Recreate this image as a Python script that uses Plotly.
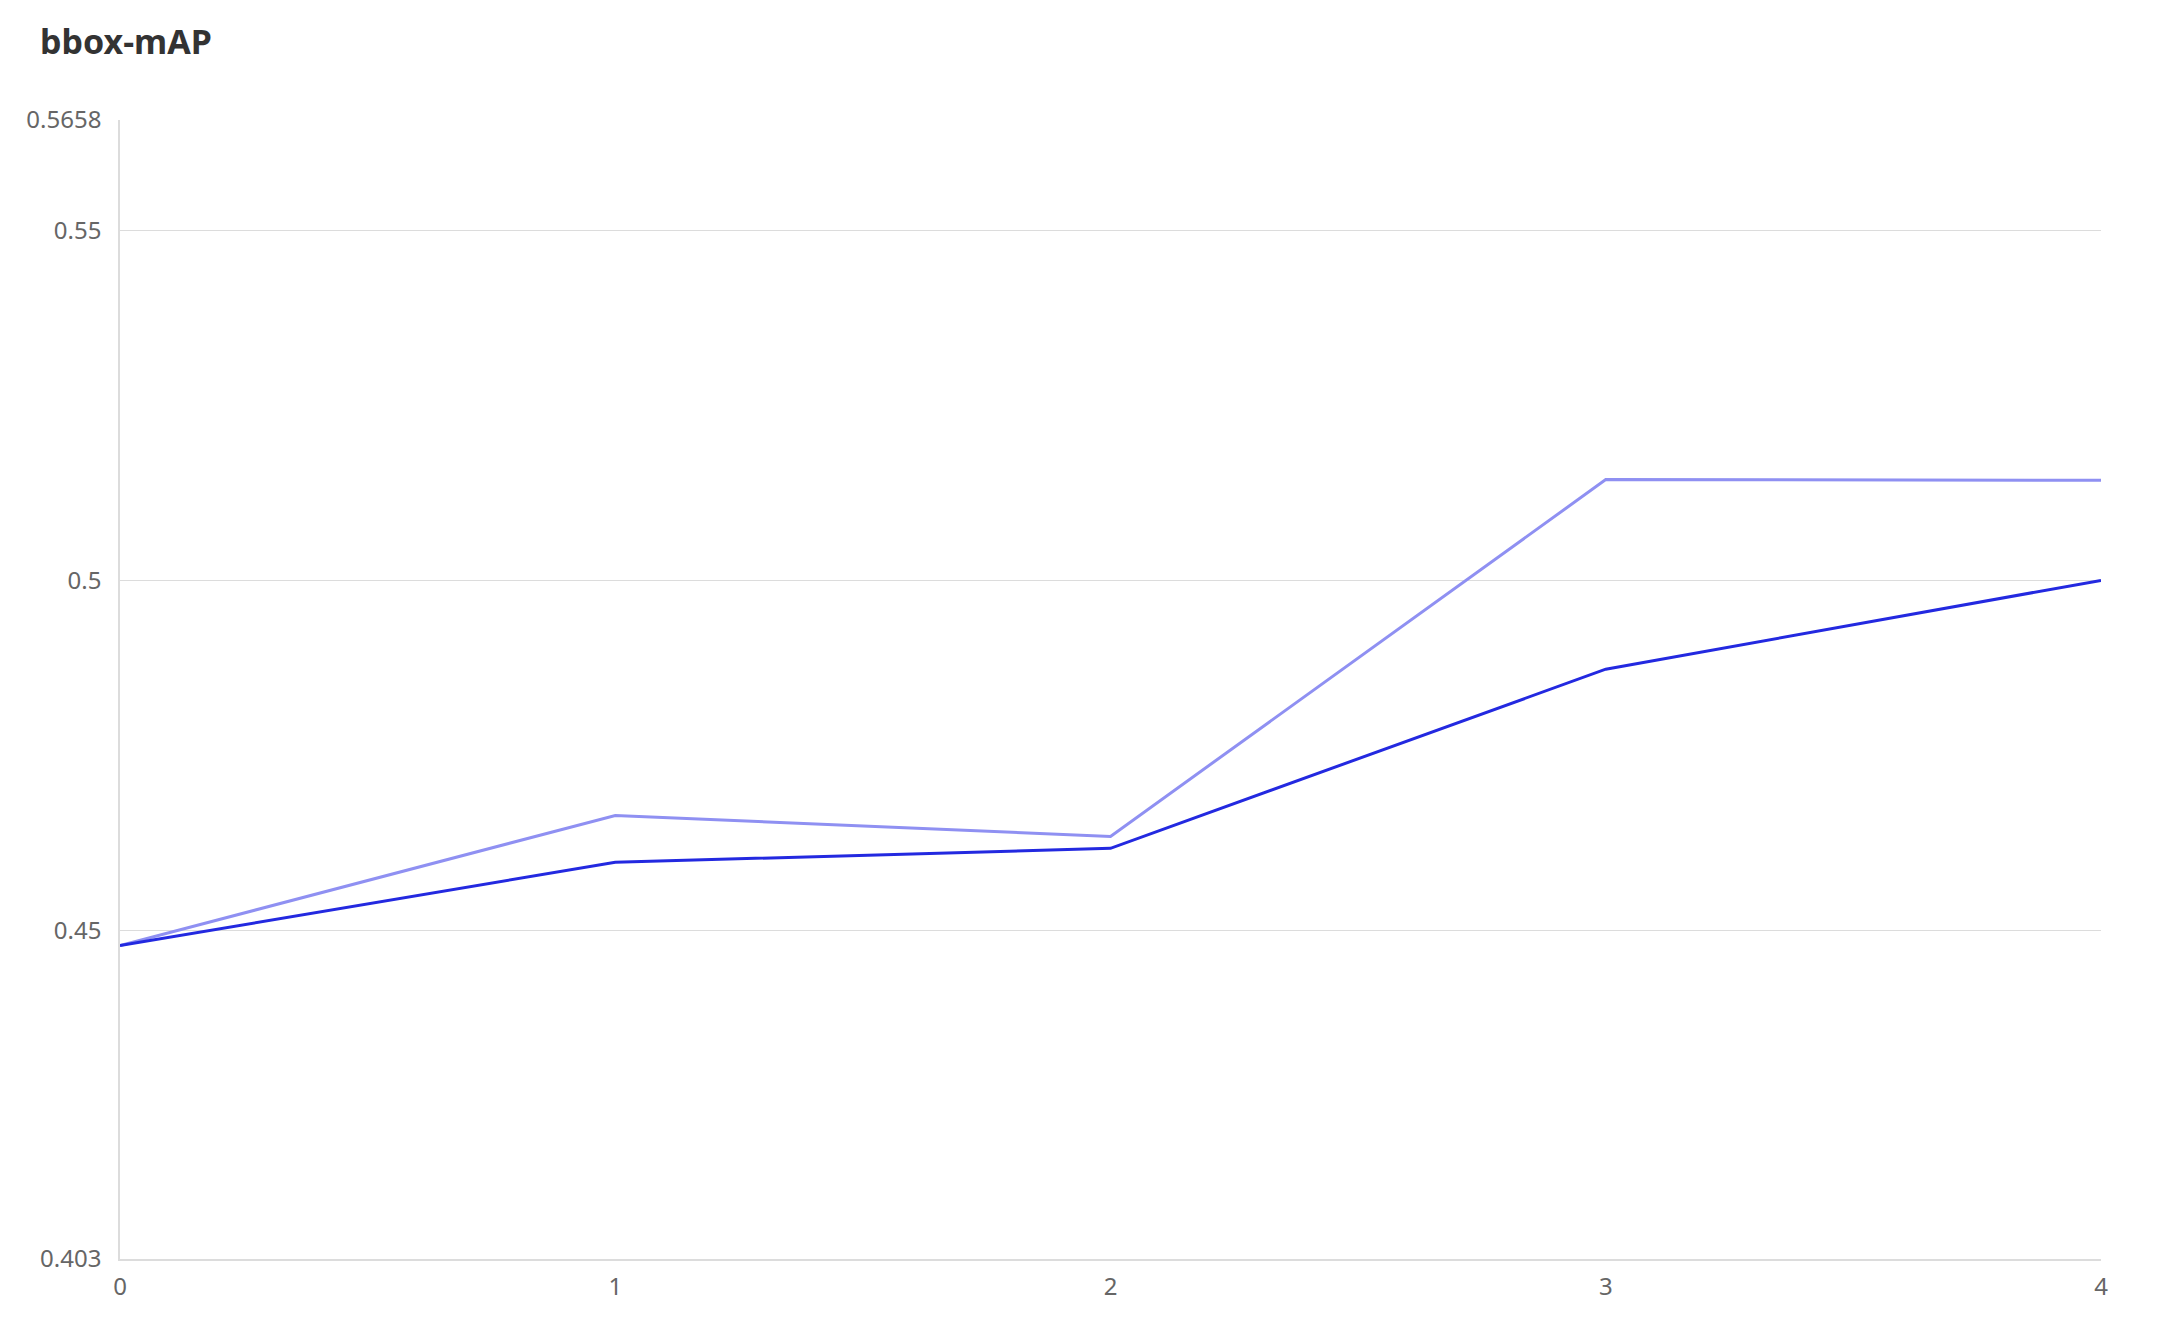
#bbox-mAP line chart

import plotly.graph_objects as go

#data
epochs = [0, 1, 2, 3, 4]
map_light = [0.4478, 0.4664, 0.4634, 0.5144, 0.5143]
map_dark = [0.4478, 0.4597, 0.4617, 0.4873, 0.5000]
y_ticks = [0.403, 0.45, 0.5, 0.55, 0.5658]
y_tick_text = ['0.403', '0.45', '0.5', '0.55', '0.5658']
x_ticks = [0, 1, 2, 3, 4]

family_font = 'Segoe UI, Noto Sans, Open Sans, sans-serif'

fig = go.Figure()
fig.add_trace(go.Scatter(x=epochs, y=map_light, mode='lines',
                         line=dict(color='#8f90f2', width=3), name='light'))
fig.add_trace(go.Scatter(x=epochs, y=map_dark, mode='lines',
                         line=dict(color='#2329e0', width=3), name='dark'))

#page body has an 8px margin, so the figure is a bit smaller than the window
fig.update_layout(
    width=2146, height=1306,
    paper_bgcolor='white', plot_bgcolor='white',
    showlegend=False,
    margin=dict(l=112, r=53, t=112, b=47),
    font=dict(family=family_font, color='#666666', size=24),
    title=dict(text='<b>bbox-mAP</b>', x=32 / 2146, xref='container', xanchor='left',
               y=1 - 34 / 1306, yref='container', yanchor='middle',
               font=dict(size=34, color='#333333')),
)

fig.update_xaxes(range=[0, 4], tickvals=x_ticks, showgrid=False,
                 showline=True, linecolor='#dcdcdc', linewidth=1.5,
                 ticks='', zeroline=False, ticklabelstandoff=5,
                 tickfont=dict(size=24, color='#666666'))
fig.update_yaxes(range=[0.403, 0.5658], tickvals=y_ticks, ticktext=y_tick_text,
                 showgrid=True, gridcolor='#dcdcdc', gridwidth=1.2,
                 showline=True, linecolor='#dcdcdc', linewidth=1.5,
                 ticks='', zeroline=False, ticklabelstandoff=12,
                 tickfont=dict(size=24, color='#666666'))

fig.write_html("out.html")
